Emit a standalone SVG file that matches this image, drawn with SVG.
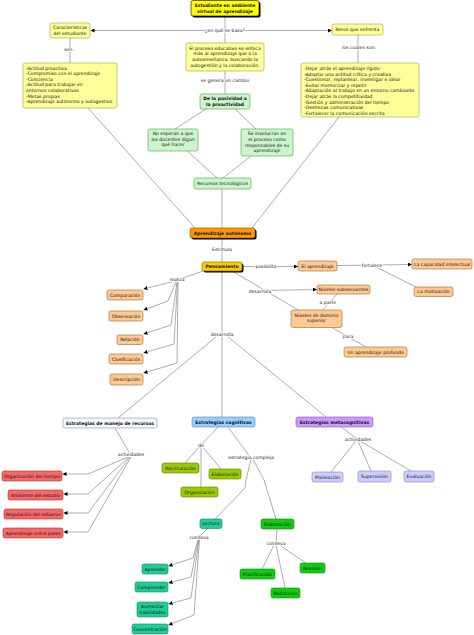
<svg xmlns="http://www.w3.org/2000/svg" width="474" height="635" viewBox="0 0 474 635">
<defs>
<marker id="ar" markerUnits="userSpaceOnUse" markerWidth="4" markerHeight="4" viewBox="0 0 4 4" refX="4" refY="2" orient="auto"><path d="M0,0 L4,2 L0,4 Z" fill="#000"/></marker>
</defs>
<style>
text{font-family:"DejaVu Sans",Verdana,sans-serif;font-size:4.6px;fill:#111;text-anchor:middle}
.b{font-weight:bold;font-size:4.5px}
.lt{text-anchor:start}
.lab{fill:#222;stroke:#fff;stroke-width:1.6;paint-order:stroke;stroke-linejoin:round}
.c path,.c line{stroke:#8a8a8a;stroke-width:0.7;fill:none}
.c .a{marker-end:url(#ar)}
rect{stroke-width:0.6}
.sh{fill:#000;stroke:none}
.yl{fill:#ffff99;stroke:#a89a40}
.gr{fill:#ccf5cc;stroke:#4c9f4c}
.or{fill:#ffc993;stroke:#a06830}
.rd{fill:#f86868;stroke:#a03030}
.ol{fill:#99cc00;stroke:#5d7f00}
.tl{fill:#22cc99;stroke:#118866}
.gn{fill:#11cc11;stroke:#118811}
.bl{fill:#99ccff;stroke:#5588bb}
.pu{fill:#cc99ff;stroke:#8855bb}
.lv{fill:#ccccff;stroke:#8888bb}
.wh{fill:#f2f6fa;stroke:#8899aa}
</style>
<rect width="474" height="635" fill="#fff"/>
<g id="connectors" class="c">
<line x1="225" y1="16" x2="225" y2="43"/>
<line class="a" x1="225" y1="30.5" x2="90.5" y2="30.5"/>
<line class="a" x1="225" y1="30.5" x2="332" y2="30.5"/>
<line x1="70" y1="38" x2="70" y2="63"/>
<line x1="358" y1="35" x2="358" y2="63"/>
<line x1="225" y1="71" x2="225" y2="94"/>
<line x1="206" y1="109" x2="175" y2="129"/>
<line x1="235" y1="109" x2="256" y2="129"/>
<line x1="187" y1="151" x2="217" y2="178"/>
<line x1="251" y1="156" x2="223" y2="178"/>
<line x1="222" y1="189" x2="222" y2="228"/>
<line x1="88" y1="108" x2="195" y2="228"/>
<line x1="339" y1="117" x2="252" y2="228"/>
<line x1="222" y1="238" x2="222" y2="262"/>
<line class="a" x1="242" y1="266.5" x2="298" y2="266.5"/>
<line class="a" x1="337" y1="265.5" x2="412" y2="264.5"/>
<line x1="376" y1="267" x2="416" y2="287"/>
<path d="M232,271 L300,311"/>
<line class="a" x1="262" y1="290.5" x2="317" y2="289.5"/>
<line x1="337" y1="294" x2="323" y2="310"/>
<line x1="331" y1="327" x2="366" y2="347"/>
<line x1="203" y1="271" x2="177" y2="280"/>
<path class="a" d="M175,281 L143.5,289"/>
<path class="a" d="M176,282 L168,301 L143.5,310"/>
<path class="a" d="M177,282 L171,325 L143.5,334"/>
<path class="a" d="M177.5,282 L174,344 L143.5,353"/>
<path class="a" d="M178,282 L177,363 L143.5,373"/>
<line x1="222" y1="271" x2="222" y2="417"/>
<line x1="217" y1="336" x2="118" y2="418"/>
<line x1="227" y1="336" x2="326" y2="417"/>
<line x1="115" y1="428" x2="130" y2="454"/>
<path class="a" d="M128,457 L88,474 L62.5,474"/>
<path class="a" d="M129,457 L88,494 L63.5,494"/>
<path class="a" d="M130,457 L88,513 L63.5,513"/>
<path class="a" d="M131,457 L88,532 L63.5,532"/>
<line x1="218" y1="427" x2="201" y2="445"/>
<line x1="200" y1="446" x2="185" y2="463"/>
<line x1="202" y1="446" x2="221" y2="469"/>
<line x1="201" y1="446" x2="201" y2="487"/>
<line x1="228" y1="427" x2="250" y2="457"/>
<path d="M251,459 L246,480 L245,488 L215,519"/>
<path d="M253,459 L264,480 L276,519"/>
<line x1="208" y1="528" x2="199" y2="537"/>
<path class="a" d="M198,539 L193,558 L168.5,566"/>
<path class="a" d="M198.5,539 L191,577 L168.5,583"/>
<path class="a" d="M199,539 L191,598 L168.5,604"/>
<path class="a" d="M199.5,539 L194,615 L168.5,625"/>
<line x1="277" y1="529" x2="276" y2="543"/>
<line x1="274" y1="545" x2="262" y2="569"/>
<line x1="276" y1="545" x2="285" y2="588"/>
<line x1="278" y1="544" x2="306" y2="563"/>
<line x1="341" y1="427" x2="357" y2="439"/>
<line x1="356" y1="441" x2="331" y2="472"/>
<line x1="358" y1="441" x2="371" y2="471"/>
<line x1="360" y1="441" x2="411" y2="471"/>
<g id="labels">
<text class="lab" x="225" y="32">¿en qué se basa?</text>
<text class="lab" x="69" y="51">son:</text>
<text class="lab" x="359" y="49">los cuales son:</text>
<text class="lab" x="225" y="82">se genera un cambio</text>
<text class="lab" x="222" y="251">Estimula</text>
<text class="lab" x="266" y="268">posibilita</text>
<text class="lab" x="372" y="267">fortalece</text>
<text class="lab" x="260" y="293">desarrolla</text>
<text class="lab" x="328" y="304">a partir</text>
<text class="lab" x="348" y="338">para</text>
<text class="lab" x="177" y="281">realiza</text>
<text class="lab" x="222" y="336">desarrolla</text>
<text class="lab" x="131" y="456">actividades</text>
<text class="lab" x="201" y="447">de</text>
<text class="lab" x="251" y="459">estrategia compleja</text>
<text class="lab" x="199" y="539">conlleva</text>
<text class="lab" x="276" y="545">conlleva</text>
<text class="lab" x="358" y="441">actividades</text>
</g>
</g>
<g id="n-title"><rect class="sh" x="192.5" y="2" width="68" height="15.5" rx="2"/><rect x="191" y="0.5" width="68" height="15.5" rx="2" fill="#ffff00" stroke="#000"/><text class="b" x="225" y="7.3">Estudiante en ambiente</text><text class="b" x="225" y="12.9">virtual de aprendizaje</text></g>
<g id="n-caract"><rect class="yl" x="50" y="23" width="40" height="15" rx="2"/><text x="70" y="29">Características</text><text x="70" y="34.6">del estudiante</text></g>
<g id="n-caract-list"><rect class="yl" x="23" y="63" width="94" height="45" rx="2"/>
<text class="lt" x="26" y="69.5">-Actitud proactiva</text>
<text class="lt" x="26" y="75.1">-Compromiso con el aprendizaje</text>
<text class="lt" x="26" y="80.8">-Conciencia</text>
<text class="lt" x="26" y="86.4">-Actitud para trabajar en</text>
<text class="lt" x="26" y="92.1"> entornos colaborativos</text>
<text class="lt" x="26" y="97.7">-Metas propias</text>
<text class="lt" x="26" y="103.4">-Aprendizaje autónomo y autogestivo</text></g>
<g id="n-retos"><rect class="yl" x="332" y="24" width="51" height="11" rx="2"/><text x="357.5" y="31.2">Retos que enfrenta</text></g>
<g id="n-retos-list"><rect class="yl" x="301" y="63" width="118" height="54" rx="2"/>
<text class="lt" x="304" y="70">-Dejar atrás el aprendizaje rígido</text>
<text class="lt" x="304" y="75.6">-Adoptar una actitud crítica y creativa</text>
<text class="lt" x="304" y="81.2">-Cuestionar, replantear, investigar e idear</text>
<text class="lt" x="304" y="86.8">-Evitar memorizar y repetir</text>
<text class="lt" x="304" y="92.4">-Adaptación al trabajo en un entorno cambiante</text>
<text class="lt" x="304" y="98">-Dejar atrás la competitividad</text>
<text class="lt" x="304" y="103.6">-Gestión y administración del tiempo</text>
<text class="lt" x="304" y="109.2">-Destrezas comunicativas</text>
<text class="lt" x="304" y="114.8">-Fortalecer la comunicación escrita</text></g>
<g id="n-proceso"><rect class="yl" x="186" y="43" width="78" height="28" rx="2"/>
<text x="225" y="49.7">El proceso educativo se enfoca</text>
<text x="225" y="55.3">más al aprendizaje que a la</text>
<text x="225" y="60.9">autoenseñanza, buscando la</text>
<text x="225" y="66.5">autogestión y la colaboración.</text></g>
<g id="n-pasividad"><rect class="gr" x="200" y="94" width="50" height="15" rx="2"/><text class="b" x="225" y="100.3">De la pasividad a</text><text class="b" x="225" y="105.9">la proactividad</text></g>
<g id="n-noesperan"><rect class="gr" x="148" y="129" width="50" height="22" rx="2"/><text x="173" y="135">No esperan a que</text><text x="173" y="140.7">los docentes digan</text><text x="173" y="146.4">qué hacer</text></g>
<g id="n-involucran"><rect class="gr" x="241" y="129" width="52" height="27" rx="2"/><text x="267" y="135">Se involucran en</text><text x="267" y="140.8">el proceso como</text><text x="267" y="146.6">responsables de su</text><text x="267" y="152.4">aprendizaje</text></g>
<g id="n-recursos"><rect class="gr" x="194" y="178" width="57" height="11" rx="2"/><text x="222.5" y="185.2">Recursos tecnológicos</text></g>
<g id="n-autonomo"><rect class="sh" x="191.5" y="229.5" width="65" height="10" rx="2"/><rect x="190" y="228" width="65" height="10" rx="2" fill="#ff9900" stroke="#8a5200"/><text class="b" x="222.5" y="234.7">Aprendizaje autónomo</text></g>
<g id="n-pensamiento"><rect class="sh" x="203.5" y="263.5" width="40" height="9" rx="2"/><rect x="202" y="262" width="40" height="9" rx="2" fill="#ffcc00" stroke="#806600"/><text class="b" x="222" y="268.2">Pensamiento</text></g>
<g id="n-elaprendizaje"><rect class="or" x="298" y="261" width="39" height="10" rx="2"/><text x="317.5" y="267.7">El aprendizaje</text></g>
<g id="n-capacidad"><rect class="or" x="412" y="259" width="60" height="10" rx="2"/><text x="442" y="265.7">La capacidad intelectual</text></g>
<g id="n-motivacion"><rect class="or" x="414" y="287" width="39" height="9.5" rx="2"/><text x="433.5" y="293.4">La motivación</text></g>
<g id="n-subsecuentes"><rect class="or" x="317" y="285" width="53" height="9" rx="2"/><text x="343.5" y="291.2">Niveles subsecuentes</text></g>
<g id="n-dominio"><rect class="or" x="291" y="310" width="51" height="17.5" rx="2"/><text x="316.5" y="316.6">Niveles de dominio</text><text x="316.5" y="322.4">superior</text></g>
<g id="n-profundo"><rect class="or" x="344" y="347" width="63" height="10" rx="2"/><text x="375.5" y="353.7">Un aprendizaje profundo</text></g>
<g id="n-comparacion"><rect class="or" x="107" y="290" width="36" height="10" rx="2"/><text x="125" y="296.7">Comparación</text></g>
<g id="n-observacion"><rect class="or" x="109" y="311" width="34" height="10" rx="2"/><text x="126" y="317.7">Observación</text></g>
<g id="n-relacion"><rect class="or" x="117" y="335" width="26" height="9.5" rx="2"/><text x="130" y="341.4">Relación</text></g>
<g id="n-clasificacion"><rect class="or" x="109" y="354" width="34" height="10" rx="2"/><text x="126" y="360.7">Clasificación</text></g>
<g id="n-descripcion"><rect class="or" x="110" y="374" width="33" height="11" rx="2"/><text x="126.5" y="381.2">Descripción</text></g>
<g id="n-manejo"><rect class="wh" x="63" y="418" width="94" height="10" rx="2"/><text class="b" x="110" y="424.7">Estrategias de manejo de recursos</text></g>
<g id="n-cognitivas"><rect class="bl" x="192" y="417" width="63" height="10" rx="2"/><text class="b" x="223.5" y="423.7">Estrategias cognitivas</text></g>
<g id="n-metacognitivas"><rect class="pu" x="296" y="417" width="77" height="10" rx="2"/><text class="b" x="334.5" y="423.7">Estrategias metacognitivas</text></g>
<g id="n-org-tiempo"><rect class="rd" x="2" y="471" width="60" height="10" rx="2"/><text x="32" y="477.7">Organización del tiempo</text></g>
<g id="n-ambiente"><rect class="rd" x="8" y="490" width="55" height="10" rx="2"/><text x="35.5" y="496.7">Ambiente del estudio</text></g>
<g id="n-regulacion"><rect class="rd" x="4" y="509" width="59" height="10" rx="2"/><text x="33.5" y="515.7">Regulación del esfuerzo</text></g>
<g id="n-pares"><rect class="rd" x="3" y="528" width="60" height="10" rx="2"/><text x="33" y="534.7">Aprendizaje entre pares</text></g>
<g id="n-recirculacion"><rect class="ol" x="162" y="463" width="37" height="10" rx="2"/><text x="180.5" y="469.7">Recirculación</text></g>
<g id="n-elaboracion1"><rect class="ol" x="209" y="469" width="32" height="10" rx="2"/><text x="225" y="475.7">Elaboración</text></g>
<g id="n-organizacion"><rect class="ol" x="181" y="487" width="37" height="10" rx="2"/><text x="199.5" y="493.7">Organización</text></g>
<g id="n-lectura"><rect class="tl" x="200" y="519" width="22" height="9.5" rx="2"/><text x="211" y="525.4">Lectura</text></g>
<g id="n-elaboracion2"><rect class="gn" x="261" y="519" width="33" height="10" rx="2"/><text x="277.5" y="525.7">Elaboración</text></g>
<g id="n-aprender"><rect class="tl" x="142" y="564" width="26" height="10" rx="2"/><text x="155" y="570.7">Aprender</text></g>
<g id="n-comprender"><rect class="tl" x="135" y="582" width="33" height="10" rx="2"/><text x="151.5" y="588.7">Comprender</text></g>
<g id="n-aumentar"><rect class="tl" x="137" y="602" width="31" height="15" rx="2"/><text x="152.5" y="608.4">Aumentar</text><text x="152.5" y="614">habilidades</text></g>
<g id="n-concentracion"><rect class="tl" x="132" y="624" width="36" height="10" rx="2"/><text x="150" y="630.7">Concentración</text></g>
<g id="n-planificacion"><rect class="gn" x="240" y="569" width="35" height="10" rx="2"/><text x="257.5" y="575.7">Planificación</text></g>
<g id="n-redaccion"><rect class="gn" x="271" y="588" width="29" height="10" rx="2"/><text x="285.5" y="594.7">Redacción</text></g>
<g id="n-revision"><rect class="gn" x="300" y="563" width="25" height="10" rx="2"/><text x="312.5" y="569.7">Revisión</text></g>
<g id="n-planeacion"><rect class="lv" x="312" y="472" width="31" height="10" rx="2"/><text x="327.5" y="478.7">Planeación</text></g>
<g id="n-supervision"><rect class="lv" x="358" y="471" width="33" height="11" rx="2"/><text x="374.5" y="478.2">Supervisión</text></g>
<g id="n-evaluacion"><rect class="lv" x="404" y="471" width="30" height="11" rx="2"/><text x="419" y="478.2">Evaluación</text></g>
</svg>
